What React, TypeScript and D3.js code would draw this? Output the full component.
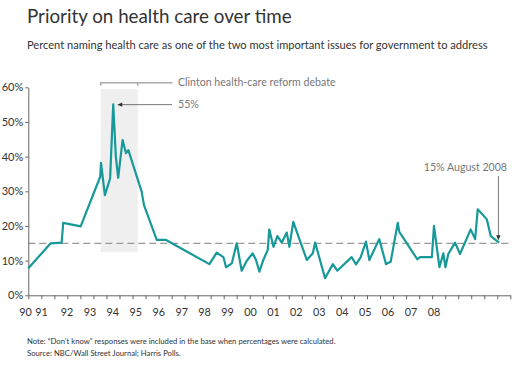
import React, { useEffect, useRef } from 'react';
import * as d3 from 'd3';

// poll dates (decimal years, as placed on the chart) and percent naming health care
const pollDates = [
  1990.0, 1990.86, 1991.28, 1991.34, 1992.01, 1992.76, 1992.79, 1992.94, 1993.14,
  1993.26, 1993.36, 1993.45, 1993.62, 1993.75, 1993.84, 1994.35, 1994.44, 1994.93,
  1995.27, 1996.95, 1997.23, 1997.49, 1997.59, 1997.81, 1998.0, 1998.19, 1998.38,
  1998.61, 1998.74, 1998.87, 1999.02, 1999.19, 1999.25, 1999.41, 1999.56, 1999.73,
  1999.92, 2000.02, 2000.17, 2000.69, 2000.92, 2001.01, 2001.39, 2001.69, 2001.86,
  2002.41, 2002.58, 2002.76, 2002.96, 2003.09, 2003.47, 2003.73, 2003.91, 2004.18,
  2004.24, 2004.93, 2005.04, 2005.49, 2005.57, 2005.78, 2005.93, 2006.01, 2006.12,
  2006.38, 2006.57, 2006.98, 2007.15, 2007.25, 2007.6, 2007.75, 2008.07
];
const pollValues = [
  7.8, 15.0, 15.2, 20.9, 19.9, 34.2, 38.2, 28.9, 33.7,
  55.1, 40.0, 33.9, 44.8, 41.0, 41.9, 29.9, 26.0, 16.0,
  16.0, 9.0, 12.3, 11.0, 8.1, 9.2, 15.0, 7.1, 9.9,
  12.1, 10.2, 6.8, 10.2, 13.1, 19.0, 14.0, 17.1, 15.2,
  18.1, 14.0, 21.2, 10.2, 12.1, 15.2, 4.9, 9.0, 7.1,
  11.0, 8.9, 11.0, 15.5, 10.2, 16.2, 9.0, 9.7, 20.9,
  18.3, 10.4, 11.0, 11.0, 20.0, 8.1, 12.1, 8.1, 11.9,
  15.2, 11.9, 19.0, 16.2, 24.8, 21.9, 17.1, 15.2
];
const yearLabels = ['90', '91', '92', '93', '94', '95', '96', '97', '98', '99',
  '00', '01', '02', '03', '04', '05', '06', '07', '08'];
const yTicks = [0, 10, 20, 30, 40, 50, 60];
const averageLevel = 15;
const clintonDebate = [1992.78, 1994.2];
const peak = { date: 1993.26, value: 55 };
const latest = { date: 2008.07, value: 15 };

const FONT = 'Lato, "Open Sans", sans-serif';
const TEAL = '#17999a';

const App = () => {
  const ref = useRef<SVGSVGElement | null>(null);

  useEffect(() => {
    const svg = d3.select(ref.current);
    svg.selectAll('*').remove();

    const x = d3.scaleLinear().domain([1990, 2008.5]).range([28.3, 510.3]);
    const y = d3.scaleLinear().domain([0, 60]).range([295.3, 87.3]);
    // year labels sit a little off the half-year ticks in the original
    const labelX = d3.scaleLinear().domain([0, 1, 2, 18]).range([25.5, 41.5, 67, 434]);

    svg.append('text')
      .attr('x', 27).attr('y', 23)
      .style('font-family', FONT).style('font-size', '18.8px').attr('fill', '#333')
      .text('Priority on health care over time');

    svg.append('text')
      .attr('x', 27).attr('y', 49)
      .style('font-family', FONT).style('font-size', '11.1px').attr('fill', '#333')
      .text('Percent naming health care as one of the two most important issues for government to address');

    // Clinton debate shading
    svg.append('rect')
      .attr('x', x(clintonDebate[0])).attr('width', x(clintonDebate[1]) - x(clintonDebate[0]))
      .attr('y', y(59.5)).attr('height', y(12.5) - y(59.5))
      .attr('fill', '#efefef');

    const br = 82.7;
    svg.append('path')
      .attr('d', `M${x(clintonDebate[0])},${br + 3}V${br}H172.5M${x(clintonDebate[1])},${br}v3`)
      .attr('fill', 'none').attr('stroke', '#aaa').attr('stroke-width', 1.5);
    svg.append('text')
      .attr('x', 178).attr('y', br + 3.5)
      .style('font-family', FONT).style('font-size', '10.6px').attr('fill', '#777')
      .text('Clinton health-care reform debate');

    // average line
    svg.append('line')
      .attr('x1', x(1990)).attr('x2', x(2008.5))
      .attr('y1', y(averageLevel)).attr('y2', y(averageLevel))
      .attr('stroke', '#999').attr('stroke-width', 1.2).attr('stroke-dasharray', '7,4');

    // axes
    const xAxis = svg.append('g').attr('transform', `translate(0,${y(0)})`)
      .call(d3.axisBottom(x).tickValues(d3.range(1990, 2008.51, 0.5)).tickSize(4).tickFormat(() => '').tickSizeOuter(0));
    xAxis.select('.domain').attr('stroke', '#666');
    xAxis.selectAll('.tick line').attr('stroke', '#666');

    const yAxis = svg.append('g').attr('transform', `translate(${x(1990)},0)`)
      .call(d3.axisLeft(y).tickValues(yTicks).tickSize(3).tickSizeOuter(0).tickFormat(d => `${d}%`));
    yAxis.select('.domain').attr('stroke', '#666');
    yAxis.selectAll('.tick line').attr('stroke', '#666');
    yAxis.selectAll('.tick text')
      .attr('x', -5)
      .style('font-family', FONT).style('font-size', '11px').attr('fill', '#333');

    svg.append('g').selectAll('text').data(yearLabels).join('text')
      .attr('x', (_, i) => labelX(i)).attr('y', 316)
      .attr('text-anchor', 'middle')
      .style('font-family', FONT).style('font-size', '10.8px').attr('fill', '#333')
      .text(d => d);

    // series
    const pts = pollDates.map((d, i) => [d, pollValues[i]] as [number, number]);
    svg.append('path')
      .datum(pts)
      .attr('fill', 'none').attr('stroke', TEAL).attr('stroke-width', 2.2)
      .attr('stroke-linejoin', 'round')
      .attr('d', d3.line<[number, number]>().x(d => x(d[0])).y(d => y(d[1])));

    // 55% arrow
    const py = y(peak.value);
    const px = x(peak.date) + 4;
    svg.append('line').attr('x1', 172).attr('x2', px + 4).attr('y1', py).attr('y2', py)
      .attr('stroke', '#555').attr('stroke-width', 0.8);
    svg.append('path').attr('d', `M${px},${py}l5,-2.2v4.4z`).attr('fill', '#333');
    svg.append('text')
      .attr('x', 178).attr('y', py + 3.5)
      .style('font-family', FONT).style('font-size', '10.6px').attr('fill', '#777')
      .text('55%');

    // latest arrow
    const lx = x(latest.date) - 0.7;
    const ly = y(latest.value) - 3;
    svg.append('line').attr('x1', lx).attr('x2', lx).attr('y1', 176).attr('y2', ly - 4)
      .attr('stroke', '#555').attr('stroke-width', 0.8);
    svg.append('path').attr('d', `M${lx},${ly}l-2.2,-5h4.4z`).attr('fill', '#333');
    svg.append('text')
      .attr('x', 507).attr('y', 171).attr('text-anchor', 'end')
      .style('font-family', FONT).style('font-size', '10.6px').attr('fill', '#777')
      .text('15% August 2008');

    svg.append('text')
      .attr('x', 27).attr('y', 344)
      .style('font-family', FONT).style('font-size', '7.7px').attr('fill', '#333')
      .text('Note: \u201CDon\u2019t know\u201D responses were included in the base when percentages were calculated.');
    svg.append('text')
      .attr('x', 27).attr('y', 356)
      .style('font-family', FONT).style('font-size', '7.7px').attr('fill', '#333')
      .text('Source: NBC/Wall Street Journal; Harris Polls.');
  }, []);

  return (
    <svg ref={ref} width={512} height={370}
      style={{ position: 'absolute', left: 0, top: 0, background: '#fff' }} />
  );
};

export default App;
